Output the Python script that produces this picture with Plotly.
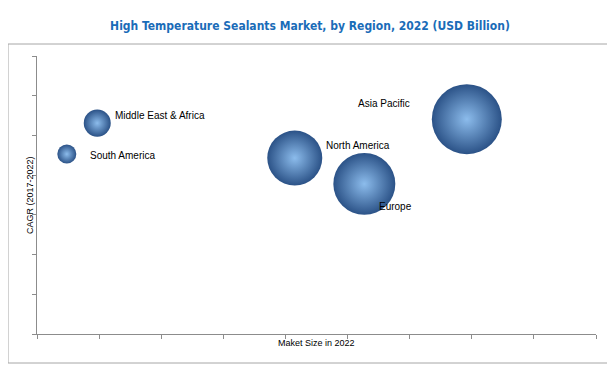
import plotly.graph_objects as go

regions = ["South America", "Middle East & Africa", "North America", "Europe", "Asia Pacific"]
market_size_2022 = [0.48, 0.97, 4.15, 5.27, 6.92]      # x position (relative market size)
cagr_2017_2022 = [4.53, 5.31, 4.43, 3.78, 5.41]        # y position (relative CAGR)
bubble_value = [0.107, 0.216, 0.895, 1.137, 1.45]      # bubble size (market value, USD Billion)

# label placement (pixel offsets from bubble centre)
label_style = {
    "South America": dict(xanchor="left", xshift=21, yshift=-1),
    "Middle East & Africa": dict(xanchor="left", xshift=16, yshift=8),
    "North America": dict(xanchor="left", xshift=29, yshift=13),
    "Europe": dict(xanchor="left", xshift=13, yshift=-23),
    "Asia Pacific": dict(xanchor="right", xshift=-55, yshift=16),
}

max_d = 70
sizeref = 2 * max(bubble_value) / max_d ** 2

fig = go.Figure()
fig.add_trace(go.Scatter(
    x=market_size_2022, y=cagr_2017_2022, mode="markers",
    marker=dict(size=bubble_value, sizemode="area", sizeref=sizeref,
                color="#2b5287", opacity=1,
                gradient=dict(type="radial", color="#8cbcec"),
                line=dict(width=0)),
    hoverinfo="skip", showlegend=False,
))

annotations = []
for name, x, y in zip(regions, market_size_2022, cagr_2017_2022):
    st = label_style[name]
    annotations.append(dict(x=x, y=y, xref="x", yref="y", text=name, showarrow=False,
                            yanchor="middle", font=dict(family="Liberation Sans", size=10, color="#000"),
                            **st))

annotations.append(dict(x=0.5, y=-9 / 278, xref="paper", yref="paper", text="Maket Size in 2022",
                        showarrow=False, xanchor="center", yanchor="middle",
                        font=dict(family="Liberation Sans", size=9, color="#000")))
annotations.append(dict(x=-7 / 559, y=0.5, xref="paper", yref="paper", text="CAGR (2017-2022)",
                        showarrow=False, xanchor="center", yanchor="middle", textangle=-90,
                        font=dict(family="Liberation Sans", size=9, color="#000")))

W, H = 607, 363
fig.update_layout(
    width=W, height=H,
    margin=dict(l=29, r=19, t=48, b=37),
    paper_bgcolor="white", plot_bgcolor="white",
    title=dict(text="High Temperature Sealants Market, by Region, 2022 (USD Billion)",
               x=0.4975, xanchor="center", y=1 - 18 / H, yanchor="middle",
               font=dict(family="DejaVu Sans Condensed", size=12, color="#1a6cb8", weight="bold")),
    xaxis=dict(range=[0, 9], dtick=1, tick0=0, showgrid=False, zeroline=False,
               showline=True, linecolor="#8c8c8c", linewidth=1,
               ticks="outside", ticklen=4, tickcolor="#8c8c8c", showticklabels=False,
               fixedrange=True),
    yaxis=dict(range=[0, 7], dtick=1, tick0=0, showgrid=False, zeroline=False,
               showline=True, linecolor="#8c8c8c", linewidth=1,
               ticks="outside", ticklen=4, tickcolor="#8c8c8c", showticklabels=False,
               fixedrange=True),
    annotations=annotations,
    shapes=[dict(type="rect", xref="paper", yref="paper",
                 x0=(0 - 29) / 559, x1=(600 - 29) / 559,
                 y0=(326 - 355) / 278, y1=(326 - 36) / 278,
                 line=dict(color="#a6a6a6", width=1), layer="below")],
)

fig.write_html("out.html")
